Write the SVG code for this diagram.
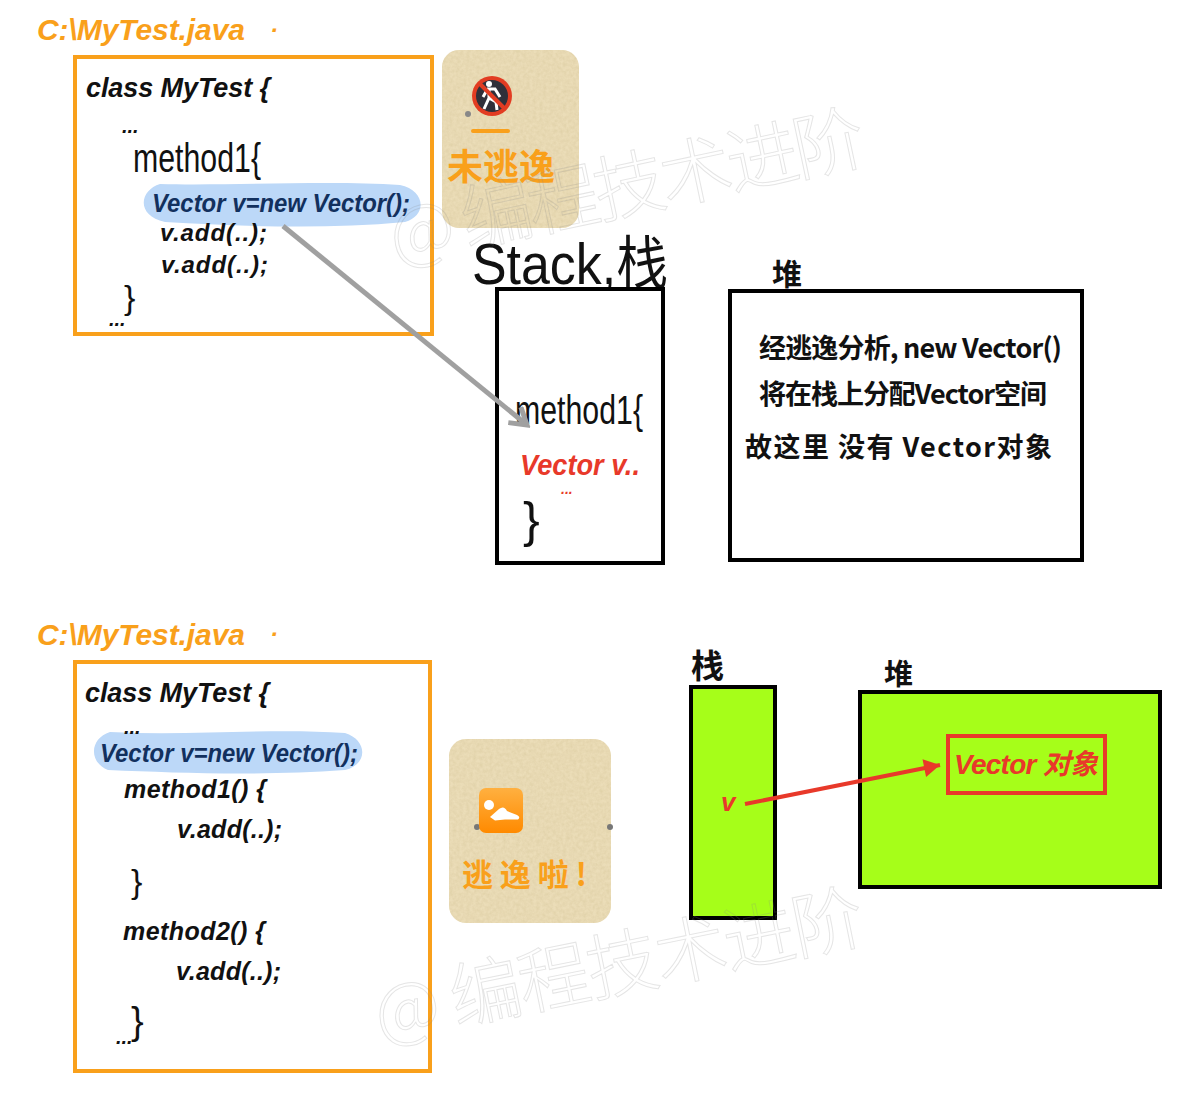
<svg xmlns="http://www.w3.org/2000/svg" width="1192" height="1116" viewBox="0 0 1192 1116">
<style>
text{font-family:"Liberation Sans","Noto Sans CJK SC",sans-serif;font-style:italic;font-weight:700;fill:#111}
.cjk{font-family:"Noto Sans CJK SC",sans-serif;font-style:normal}
.thin{font-weight:400;font-style:normal}
.or{fill:#f9a01b}
.nv{fill:#12305e}
.rd{fill:#e8392a}
.wm{font-family:"Noto Sans CJK SC",sans-serif;font-style:normal;font-weight:300;font-size:72px;fill:none;stroke:#888;stroke-opacity:.22;stroke-width:1}
.ob{fill:none;stroke:#f9a01b;stroke-width:4}
.bk{fill:#fff;stroke:#000;stroke-width:4}
.gr{fill:#a6fe19;stroke:#000;stroke-width:4}
.hl{fill:#bcd8f8}
.card{fill:#ebddb8}
</style>
<defs>
<marker id="ag" markerUnits="userSpaceOnUse" markerWidth="24" markerHeight="24" refX="20" refY="12" orient="auto"><path d="M4 2L20 12L4 22" fill="none" stroke="#a0a0a0" stroke-width="5"/></marker>
<marker id="ar" markerUnits="userSpaceOnUse" markerWidth="24" markerHeight="24" refX="20" refY="12" orient="auto"><path d="M4 3L20 12L4 21Z" fill="#e8392a"/></marker>
<linearGradient id="og" x1="0" y1="0" x2="0" y2="1"><stop offset="0" stop-color="#ffb040"/><stop offset="1" stop-color="#ff8a00"/></linearGradient>
<filter id="paper" x="0" y="0" width="100%" height="100%"><feTurbulence type="fractalNoise" baseFrequency="0.3" numOctaves="3" seed="4"/><feColorMatrix values="0 0 0 0 .55 0 0 0 0 .45 0 0 0 0 .2 0 0 0 .45 -.12"/><feComposite in2="SourceAlpha" operator="in"/><feMerge><feMergeNode in="SourceGraphic"/><feMergeNode/></feMerge></filter>
</defs>
<rect width="1192" height="1116" fill="#fff"/>

<g id="file-label-1"><text class="or" x="37" y="40" font-size="30" textLength="208">C:\MyTest.java</text><text class="or" x="270" y="38" font-size="24">·</text></g>
<g id="code-top">
<rect class="ob" x="75" y="57" width="357" height="277"/>
<path class="hl" d="M160 184C230 186 330 180 400 185C425 190 428 215 405 222C320 230 240 226 165 222C135 215 140 190 160 184Z"/>
<text x="86" y="97" font-size="27" textLength="184">class MyTest {</text>
<text x="122" y="133" font-size="20">...</text>
<text class="thin" x="133" y="172" font-size="40" textLength="128" lengthAdjust="spacingAndGlyphs">method1{</text>
<text class="nv" x="152" y="212" font-size="25" textLength="258" lengthAdjust="spacingAndGlyphs">Vector v=new Vector();</text>
<text x="160" y="241" font-size="24" textLength="107">v.add(..);</text>
<text x="161" y="273" font-size="24" textLength="107">v.add(..);</text>
<text class="thin" x="124" y="309" font-size="34">}</text>
<text x="109" y="326" font-size="20">...</text>
</g>
<g id="card-not-escaped">
<rect class="card" filter="url(#paper)" x="442" y="50" width="137" height="178" rx="17"/>
<circle cx="468" cy="114" r="3" fill="#888"/>
<circle cx="492" cy="96" r="20" fill="#e23c22"/><circle cx="492" cy="96" r="16" fill="#30303a"/>
<circle cx="489" cy="84" r="3" fill="#fff"/>
<path d="M487 89L495 89L500 97M489 90L489 98L484 109M489 98L496 102L497 110M487 90L483 97" fill="none" stroke="#fff" stroke-width="3"/>
<path d="M479 83L505 109" stroke="#e23c22" stroke-width="4"/>
<rect x="471" y="129" width="39" height="4" rx="2" fill="#f9a01b"/>
<text class="or cjk" x="447" y="180" font-size="36" textLength="108">未逃逸</text>
</g>
<g id="stack-top">
<text class="thin" x="472" y="284" font-size="58" textLength="196" lengthAdjust="spacingAndGlyphs">Stack,栈</text>
<rect class="bk" x="497" y="289" width="166" height="274"/>
<text class="thin" x="515" y="424" font-size="40" textLength="128" lengthAdjust="spacingAndGlyphs">method1{</text>
<text class="rd" x="520" y="475" font-size="29" textLength="120" lengthAdjust="spacingAndGlyphs">Vector v..</text>
<text class="rd" x="561" y="494" font-size="14">...</text>
<text class="thin" x="523" y="537" font-size="50">}</text>
</g>
<g id="heap-top">
<text class="cjk" x="772" y="285" font-size="30">堆</text>
<rect class="bk" x="730" y="291" width="352" height="269"/>
<text class="cjk" x="759" y="358" font-size="27" textLength="303">经逃逸分析, new Vector()</text>
<text class="cjk" x="759" y="404" font-size="27" textLength="288">将在栈上分配Vector空间</text>
<text class="cjk" x="745" y="457" font-size="27" textLength="307">故这里 没有 Vector对象</text>
</g>

<g id="file-label-2"><text class="or" x="37" y="645" font-size="30" textLength="208">C:\MyTest.java</text><text class="or" x="270" y="642" font-size="24">·</text></g>
<g id="code-bottom">
<rect class="ob" x="75" y="662" width="355" height="409"/>
<path class="hl" d="M110 732C190 736 270 728 345 733C368 740 368 765 345 770C260 776 180 773 108 770C88 762 90 738 110 732Z"/>
<text x="85" y="702" font-size="27" textLength="184">class MyTest {</text>
<text x="124" y="734" font-size="20">...</text>
<text class="nv" x="100" y="762" font-size="25" textLength="258" lengthAdjust="spacingAndGlyphs">Vector v=new Vector();</text>
<text x="124" y="798" font-size="25" textLength="142">method1() {</text>
<text x="177" y="838" font-size="25" textLength="105">v.add(..);</text>
<text class="thin" x="131" y="893" font-size="34">}</text>
<text x="123" y="940" font-size="25" textLength="142">method2() {</text>
<text x="176" y="980" font-size="25" textLength="105">v.add(..);</text>
<text class="thin" x="131" y="1034" font-size="38">}</text>
<text x="116" y="1044" font-size="20">...</text>
</g>
<g id="card-escaped">
<rect class="card" filter="url(#paper)" x="449" y="739" width="162" height="184" rx="17"/>
<circle cx="477" cy="827" r="3" fill="#777"/><circle cx="610" cy="827" r="3" fill="#777"/>
<rect x="479" y="788" width="44" height="45" rx="7" fill="url(#og)"/>
<circle cx="489" cy="805" r="5" fill="#fff"/>
<path d="M490 817L499 809Q504 805 507 811L517 815Q521 817 518 819.500L505 819.500L495 820.500Z" fill="#fff"/>
<text class="or cjk" x="462" y="886" font-size="31" textLength="125">逃逸啦!</text>
</g>
<g id="stack-bottom">
<text class="cjk" x="691" y="678" font-size="33">栈</text>
<rect class="gr" x="691" y="687" width="84" height="231"/>
<text class="rd" x="721" y="811" font-size="26">v</text>
</g>
<g id="heap-bottom">
<text class="cjk" x="884" y="685" font-size="29">堆</text>
<rect class="gr" x="860" y="692" width="300" height="195"/>
</g>
<g id="vector-object">
<rect x="948" y="736" width="157" height="57" fill="none" stroke="#e8392a" stroke-width="4"/>
<text class="rd" x="954" y="774" font-size="28" textLength="144">Vector 对象</text>
</g>
<g id="connectors" fill="none">
<path d="M283 226L527 425" stroke="#a0a0a0" stroke-width="5" marker-end="url(#ag)"/>
<path d="M745 804L940 765" stroke="#e8392a" stroke-width="4" marker-end="url(#ar)"/>
</g>
<g id="watermarks">
<text class="wm" transform="translate(395 262) rotate(-12)" textLength="485">@ 编程技术进阶</text>
<text class="wm" transform="translate(380 1040) rotate(-11.500)" textLength="498">@ 编程技术进阶</text>
</g>
</svg>
